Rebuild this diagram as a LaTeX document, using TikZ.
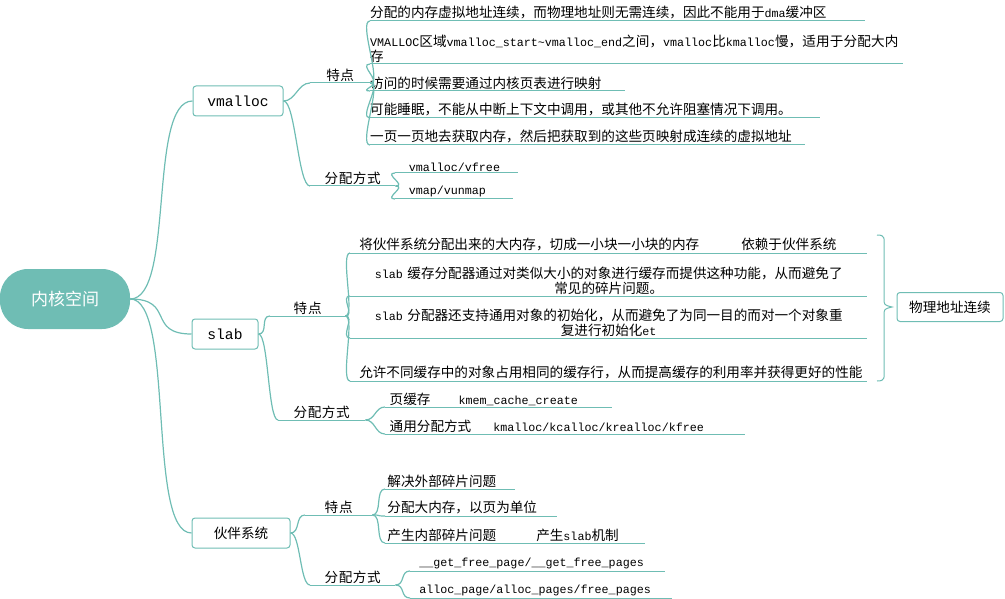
\documentclass[tikz,border=0pt]{standalone}
\usepackage{fontspec}
\setmainfont{Noto Sans CJK SC}
\setmonofont{Liberation Mono}[Scale=0.86]
\XeTeXlinebreaklocale "zh"
\XeTeXlinebreakskip=0pt plus 1pt
\definecolor{teal1}{HTML}{6FBDB4}
\newcommand\leaf[6][left]{%
  \node[leaf,align=#1,text width=#5] (#2) at (#3,#4) {#6};
  \draw[line] (#2.south west) -- (#2.south east);}
\begin{document}
\begin{tikzpicture}[x=1pt,y=-1pt,font=\fontsize{13.6}{15}\selectfont,
  line/.style={draw=teal1,line width=1pt},
  branch/.style={draw=teal1,line width=1.2pt},
  leaf/.style={anchor=south west,inner xsep=0pt,inner ysep=1.5pt},
  box/.style={draw=teal1,line width=1pt,rounded corners=3pt,minimum height=30,fill=white}]
\useasboundingbox (0,0) rectangle (1005,599);

% root and main boxes
\node[fill=teal1,rounded corners=28,minimum width=130,minimum height=60,text=white,font=\fontsize{17}{20}\selectfont] (root) at (65,299) {内核空间};
\node[box,minimum width=90] (vm) at (238,101) {\ttfamily\fontsize{17}{18}\selectfont vmalloc};
\node[box,minimum width=66] (slab) at (225,334) {\ttfamily\fontsize{17}{18}\selectfont slab};
\node[box,minimum width=98] (buddy) at (241,533) {伙伴系统};
\foreach \b in {vm,slab,buddy}
  \draw[branch] (root.east) .. controls +(45,0) and +(-45,0) .. (\b.west);

% vmalloc
\leaf[center]{vmt}{310}{83}{60}{特点}
\leaf[center]{vma}{310}{186}{85}{分配方式}
\draw[branch] (vm.east) .. controls +(12,0) and +(-12,0) .. (vmt.south west);
\draw[branch] (vm.east) .. controls +(12,0) and +(-12,0) .. (vma.south west);
\leaf{v1}{370}{21}{495}{分配的内存虚拟地址连续，而物理地址则无需连续，因此不能用于\texttt{dma}缓冲区}
\leaf{v2}{370}{64}{533}{\texttt{VMALLOC}区域\texttt{vmalloc\_start\textasciitilde vmalloc\_end}之间，\texttt{vmalloc}比\texttt{kmalloc}慢，适用于分配大内存}
\leaf{v3}{370}{91}{255}{访问的时候需要通过内核页表进行映射}
\leaf{v4}{370}{118}{450}{可能睡眠，不能从中断上下文中调用，或其他不允许阻塞情况下调用。}
\leaf{v5}{370}{145}{435}{一页一页地去获取内存，然后把获取到的这些页映射成连续的虚拟地址}
\foreach \l in {v1,v2,v3,v4,v5}
  \draw[branch] (vmt.south east) .. controls +(12,0) and +(-12,0) .. (\l.south west);
\leaf{va1}{395}{173}{123}{\ttfamily\ \ \ vmalloc/vfree}
\leaf{va2}{395}{199}{118}{\ttfamily\ \ \ vmap/vunmap}
\foreach \l in {va1,va2}
  \draw[branch] (vma.south east) .. controls +(12,0) and +(-12,0) .. (\l.south west);

% slab
\leaf[center]{slt}{270}{316}{75}{特点}
\leaf[center]{sla}{278}{420}{87}{分配方式}
\draw[branch] (slab.east) .. controls +(10,0) and +(-10,0) .. (slt.south west);
\draw[branch] (slab.east) .. controls +(10,0) and +(-10,0) .. (sla.south west);
\leaf{s1}{350}{253}{517}{\ \ 将伙伴系统分配出来的大内存，切成一小块一小块的内存\hspace{42pt}依赖于伙伴系统}
\leaf[center]{s2}{350}{296}{517}{\parbox{470pt}{\centering\ttfamily slab \rmfamily 缓存分配器通过对类似大小的对象进行缓存而提供这种功能，从而避免了常见的碎片问题。}}
\leaf[center]{s3}{350}{338}{517}{\parbox{470pt}{\centering\ttfamily slab \rmfamily 分配器还支持通用对象的初始化，从而避免了为同一目的而对一个对象重复进行初始化\texttt{et}}}
\leaf{s4}{350}{381}{517}{\ \ 允许不同缓存中的对象占用相同的缓存行，从而提高缓存的利用率并获得更好的性能}
\foreach \l in {s1,s2,s3,s4}
  \draw[branch] (slt.south east) .. controls +(10,0) and +(-10,0) .. (\l.south west);
\draw[line] (877,235) .. controls (886,235) and (884,238) .. (884,250) -- (884,298)
  .. controls (884,305) .. (892,307) .. controls (884,309) .. (884,316) -- (884,366)
  .. controls (884,378) and (886,381) .. (877,381);
\node[box,minimum width=106,minimum height=29] (phys) at (950,307) {物理地址连续};
\leaf{sa1}{385}{407}{227}{\ 页缓存\hspace{28pt}\ttfamily kmem\_cache\_create}
\leaf{sa2}{385}{434}{360}{\ 通用分配方式\hspace{22pt}\ttfamily kmalloc/kcalloc/krealloc/kfree}
\foreach \l in {sa1,sa2}
  \draw[branch] (sla.south east) .. controls +(10,0) and +(-10,0) .. (\l.south west);

% buddy
\leaf[center]{bt}{305}{515}{67}{特点}
\leaf[center]{ba}{310}{585}{85}{分配方式}
\draw[branch] (buddy.east) .. controls +(10,0) and +(-10,0) .. (bt.south west);
\draw[branch] (buddy.east) .. controls +(10,0) and +(-10,0) .. (ba.south west);
\leaf{b1}{385}{489}{130}{\,解决外部碎片问题}
\leaf{b2}{385}{516}{172}{\,分配大内存，以页为单位}
\leaf{b3}{385}{543}{260}{\,产生内部碎片问题\hspace{40pt}产生\texttt{slab}机制}
\foreach \l in {b1,b2,b3}
  \draw[branch] (bt.south east) .. controls +(10,0) and +(-10,0) .. (\l.south west);
\leaf{ba1}{410}{571}{255}{\ttfamily\ \ \_\_get\_free\_page/\_\_get\_free\_pages}
\leaf{ba2}{410}{598}{262}{\ttfamily\ \ alloc\_page/alloc\_pages/free\_pages}
\foreach \l in {ba1,ba2}
  \draw[branch] (ba.south east) .. controls +(10,0) and +(-10,0) .. (\l.south west);
\end{tikzpicture}
\end{document}
